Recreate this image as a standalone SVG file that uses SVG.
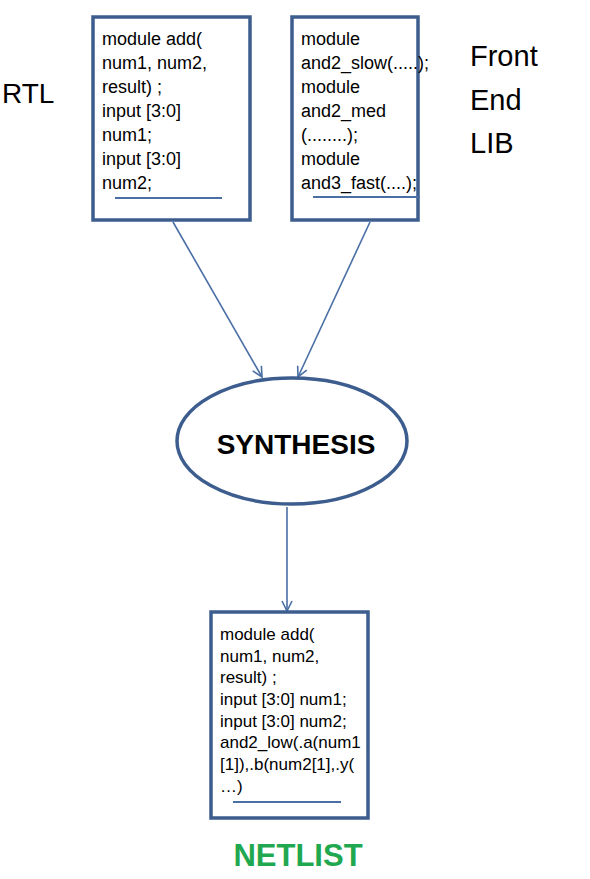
<svg xmlns="http://www.w3.org/2000/svg" width="590" height="879" viewBox="0 0 590 879">
<style>
.box{fill:#fff;stroke:#3c5d8e;stroke-width:3.5}
.t{font-family:"Liberation Sans",Arial,sans-serif;fill:#000}
.c1{font-size:18px}
.c3{font-size:17px}
.ul{stroke:#4a6fa5;stroke-width:2}
.conn{stroke:#4a6fa5;stroke-width:1.6;fill:none}
.lbl{font-family:"Liberation Sans",Arial,sans-serif;font-size:29px;fill:#000}
</style>
<defs>
<marker id="arr" viewBox="0 0 12 12" refX="11" refY="6" markerWidth="12" markerHeight="12" markerUnits="userSpaceOnUse" orient="auto">
<path d="M1,1 L11,6 L1,11" fill="none" stroke="#4a6fa5" stroke-width="1.6"/>
</marker>
</defs>
<g id="connectors">
<line class="conn" x1="173" y1="222" x2="262" y2="377" marker-end="url(#arr)"/>
<line class="conn" x1="370" y1="222" x2="298" y2="377" marker-end="url(#arr)"/>
<line class="conn" x1="287" y1="507" x2="287" y2="611" marker-end="url(#arr)"/>
</g>
<g id="rtl-box">
<rect class="box" x="93" y="17" width="157" height="203"/>
<g class="t c1">
<text x="102" y="45">module add(</text>
<text x="102" y="69">num1, num2,</text>
<text x="102" y="93">result) ;</text>
<text x="102" y="117">input [3:0]</text>
<text x="102" y="141">num1;</text>
<text x="102" y="165">input [3:0]</text>
<text x="102" y="189">num2;</text>
</g>
<line class="ul" x1="115" y1="198" x2="222" y2="198"/>
</g>
<g id="lib-box">
<rect class="box" x="292" y="17" width="126" height="203"/>
<g class="t c1">
<text x="301" y="45">module</text>
<text x="301" y="69">and2_slow(.....);</text>
<text x="301" y="93">module</text>
<text x="301" y="117">and2_med</text>
<text x="301" y="141">(........);</text>
<text x="301" y="165">module</text>
<text x="301" y="189">and3_fast(....);</text>
</g>
<line class="ul" x1="313" y1="197" x2="420" y2="197"/>
</g>
<g id="synthesis">
<ellipse cx="292" cy="441" rx="115" ry="63" fill="#fff" stroke="#3c5d8e" stroke-width="3.5"/>
<text x="296" y="454" text-anchor="middle" font-family="'Liberation Sans',Arial,sans-serif" font-size="28" font-weight="bold">SYNTHESIS</text>
</g>
<g id="netlist-box">
<rect class="box" x="211" y="612" width="157" height="206"/>
<g class="t c3">
<text x="220" y="640">module add(</text>
<text x="220" y="662">num1, num2,</text>
<text x="220" y="683">result) ;</text>
<text x="220" y="705">input [3:0] num1;</text>
<text x="220" y="727">input [3:0] num2;</text>
<text x="220" y="748">and2_low(.a(num1</text>
<text x="220" y="770">[1]),.b(num2[1],.y(</text>
<text x="220" y="792">…)</text>
</g>
<line class="ul" x1="233" y1="802" x2="341" y2="802"/>
</g>
<g id="labels">
<text x="2" y="103" font-family="'Liberation Sans',Arial,sans-serif" font-size="28">RTL</text>
<text class="lbl" x="470" y="66">Front</text>
<text class="lbl" x="470" y="110">End</text>
<text class="lbl" x="470" y="153">LIB</text>
<text x="298" y="866" text-anchor="middle" font-family="'Liberation Sans',Arial,sans-serif" font-size="31" font-weight="bold" fill="#1fa84f">NETLIST</text>
</g>
</svg>
